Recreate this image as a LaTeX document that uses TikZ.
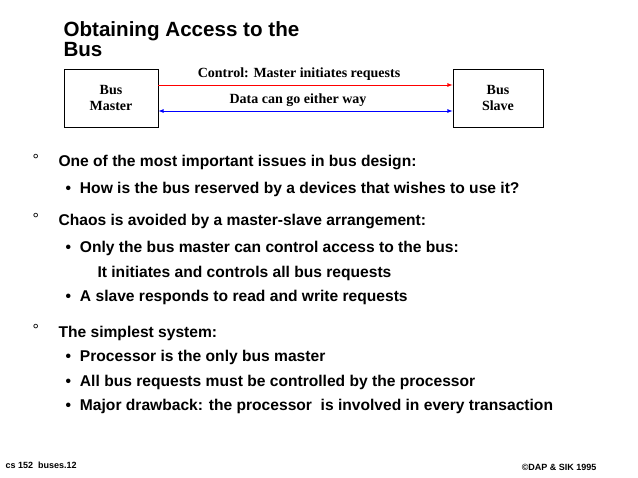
\documentclass[tikz,border=0pt]{standalone}
\usepackage{fontspec}
\setmainfont{Liberation Sans}
\newfontfamily\serifb{Liberation Serif}
\newcommand{\bul}{•\hspace{9pt}}
\begin{document}
\begin{tikzpicture}[x=1pt,y=-1pt,
  box/.style={draw,thick,minimum width=94pt,minimum height=58pt,font=\serifb\bfseries\fontsize{14}{16}\selectfont,align=center},
  lbl/.style={font=\serifb\bfseries\fontsize{14}{16}\selectfont},
  body/.style={anchor=west,font=\bfseries\fontsize{15.6}{18}\selectfont},
  deg/.style={anchor=west,font=\fontsize{16}{16}\selectfont}]
\useasboundingbox (0,0) rectangle (638,478);
\node[anchor=west,align=left,font=\bfseries\fontsize{20.6}{20.6}\selectfont] (title) at (60,39) {Obtaining Access to the\\Bus};
\node[box] (m) at (111,98) {Bus\\Master};
\node[box,minimum width=90pt] (s) at (498,98) {Bus\\Slave};
\draw[red,thick,-latex] (m.east|-0,85) coordinate (r1) -- (s.west|-0,85) coordinate (r2);
\draw[blue,thick,latex-latex] (m.east|-0,111) coordinate (b1) -- (s.west|-0,111) coordinate (b2);
\node[lbl,anchor=south] (c) at (299,84) {Control: Master initiates requests};
\node[lbl,anchor=south] (d) at (298,110) {Data can go either way};
\node[deg] (o1) at (29,160) {°};
\node[body] (t1) at (55,163) {One of the most important issues in bus design:};
\node[body] (t2) at (62,189) {\bul How is the bus reserved by a devices that wishes to use it?};
\node[deg] (o2) at (29,219) {°};
\node[body] (t3) at (55,222) {Chaos is avoided by a master-slave arrangement:};
\node[body] (t4) at (62,248) {\bul Only the bus master can control access to the bus:};
\node[body] (t5) at (94,273) {It initiates and controls all bus requests};
\node[body] (t6) at (62,297) {\bul A slave responds to read and write requests};
\node[deg] (o3) at (29,330) {°};
\node[body] (t7) at (55,333) {The simplest system:};
\node[body] (t8) at (62,357) {\bul Processor is the only bus master};
\node[body] (t9) at (62,382) {\bul All bus requests must be controlled by the processor};
\node[body] (t10) at (62,406) {\bul Major drawback: the processor\ \ is involved in every transaction};
\node[anchor=west,font=\bfseries\fontsize{9}{10}\selectfont] (f1) at (2,465) {cs 152\ \ buses.12};
\node[anchor=east,font=\bfseries\fontsize{9}{10}\selectfont] (f2) at (600,467) {©DAP \& SIK 1995};
\end{tikzpicture}
\end{document}
